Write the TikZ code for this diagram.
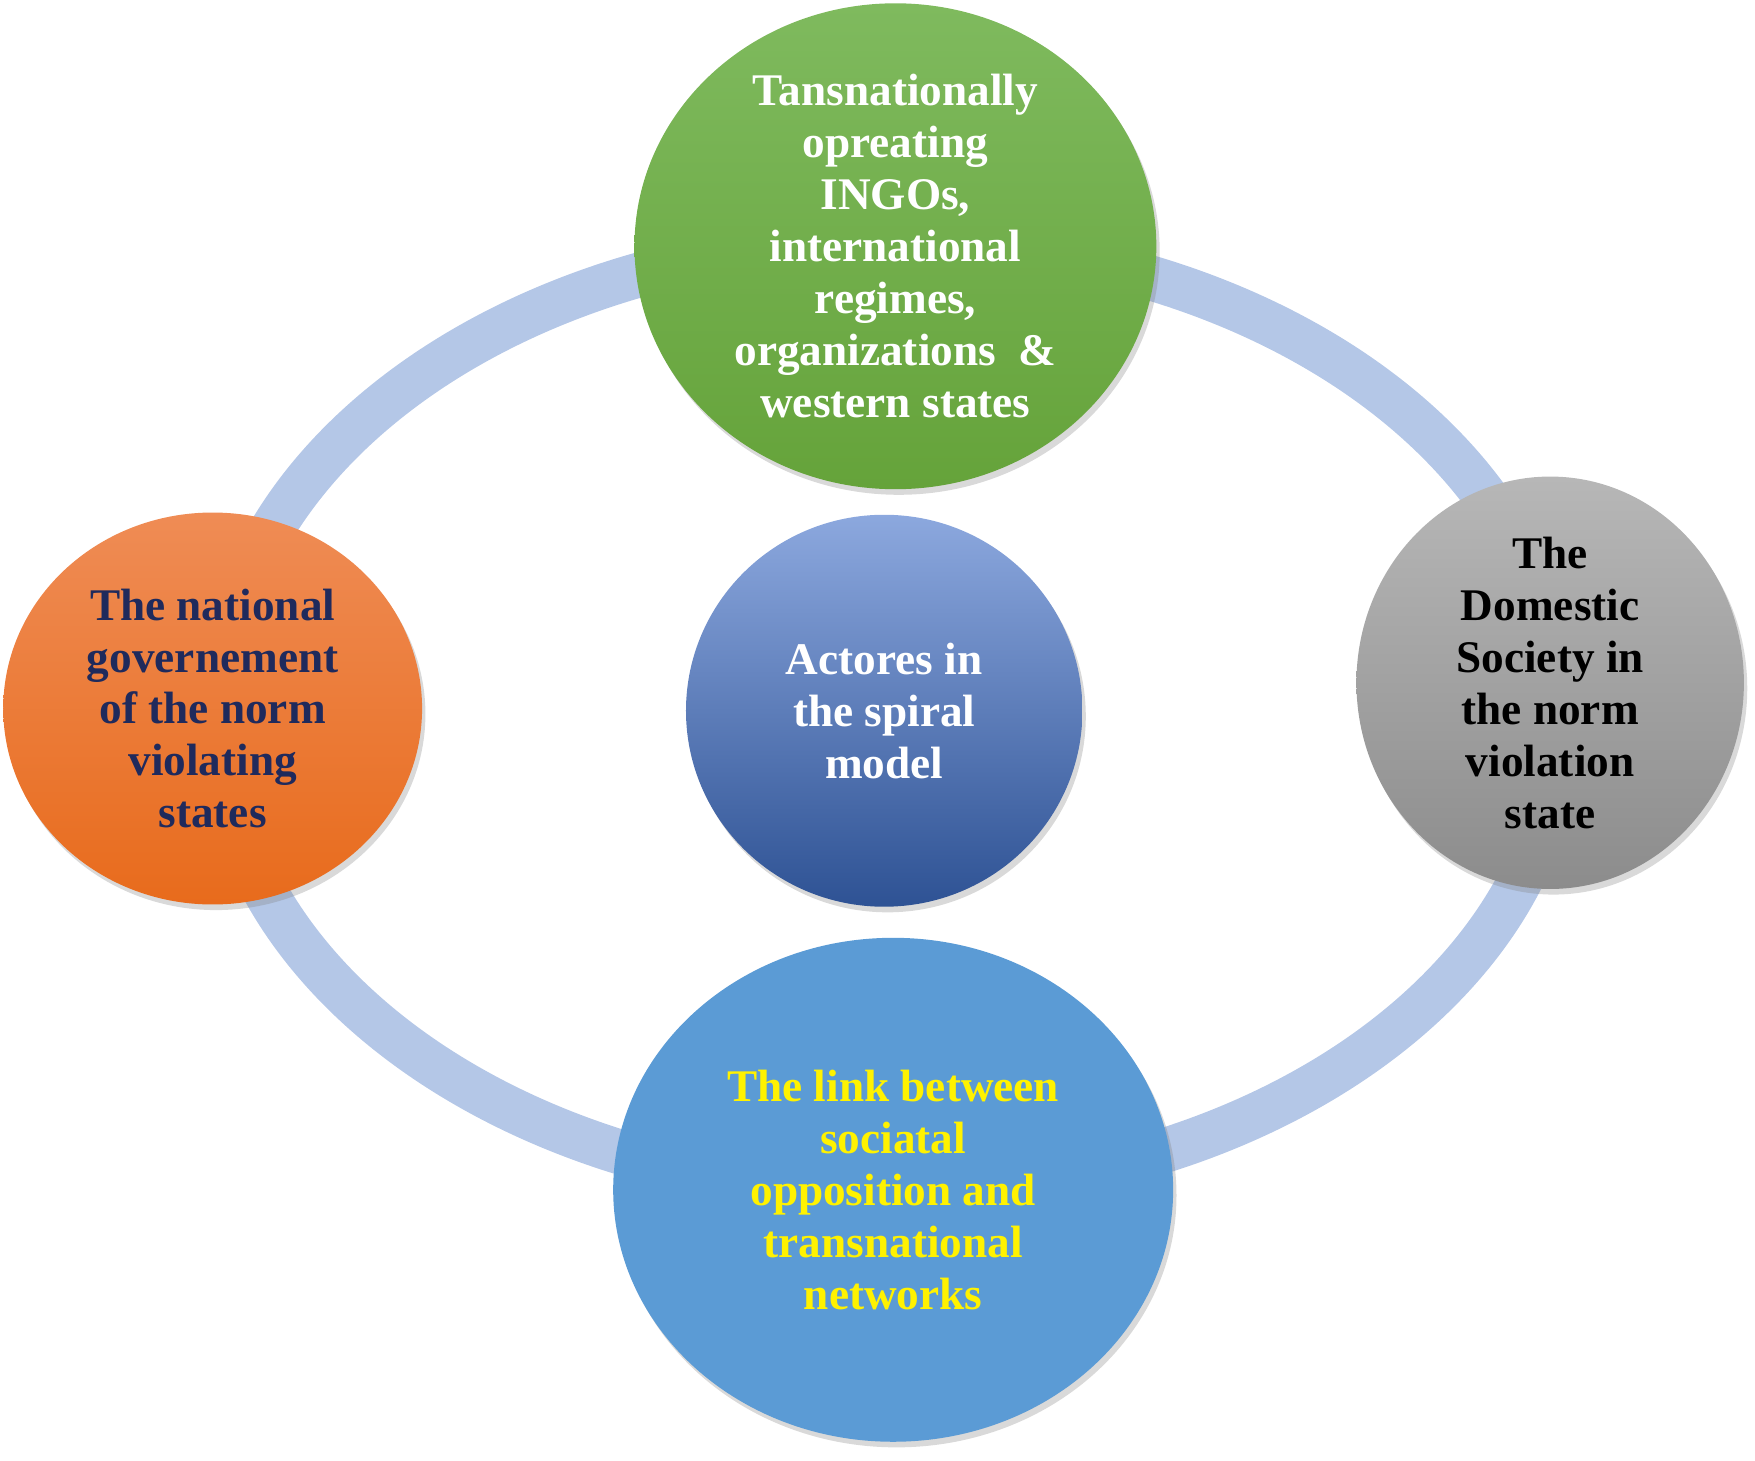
\documentclass[tikz,border=0pt]{standalone}
\usepackage{fontspec}
\setmainfont{Liberation Serif}
\usetikzlibrary{shapes.geometric,shadows}
\definecolor{ring}{HTML}{B4C7E7}
\definecolor{navy}{HTML}{1F2A5C}
\definecolor{gtop}{HTML}{7FBA5E}
\definecolor{gbot}{HTML}{65A33A}
\definecolor{otop}{HTML}{EF8C55}
\definecolor{obot}{HTML}{E86B1C}
\definecolor{rtop}{HTML}{B7B7B7}
\definecolor{rbot}{HTML}{8C8C8C}
\definecolor{btop}{HTML}{8CA8DE}
\definecolor{bmid}{HTML}{4872C4}
\definecolor{bbot}{HTML}{2E5294}
\definecolor{lblue}{HTML}{5B9BD5}
\tikzset{blob/.style={ellipse,inner sep=0pt,align=center,font=\fontsize{11.5}{13.2}\selectfont\bfseries,drop shadow={opacity=0.3,shadow xshift=0.03cm,shadow yshift=-0.05cm}}}
\begin{document}
\begin{tikzpicture}[x=0.01cm,y=0.01cm]
\useasboundingbox (0,0) rectangle (1568,-1305);
\draw[ring,line width=0.4cm] (795,-640) ellipse [x radius=600,y radius=425];
\node[blob,minimum width=4.66cm,minimum height=4.30cm,top color=gtop,bottom color=gbot,text=white] (top) at (800,-220) {Tansnationally\\opreating\\INGOs,\\international\\regimes,\\organizations~~\&\\western states};
\node[blob,minimum width=3.74cm,minimum height=3.50cm,top color=otop,bottom color=obot,text=navy] (left) at (190,-633) {The national\\governement\\of the norm\\violating\\states};
\node[blob,minimum width=3.46cm,minimum height=3.44cm,top color=rtop,bottom color=rbot,text=black] (right) at (1385,-610) {The\\Domestic\\Society in\\the norm\\violation\\state};
\node[blob,minimum width=3.54cm,minimum height=3.50cm,top color=btop,middle color=bmid,bottom color=bbot,text=white] (mid) at (790,-635) {Actores in\\the spiral\\model};
\node[blob,minimum width=5.00cm,minimum height=4.50cm,fill=lblue,text=yellow] (bot) at (798,-1063) {The link between\\sociatal\\opposition and\\transnational\\networks};
\end{tikzpicture}
\end{document}
